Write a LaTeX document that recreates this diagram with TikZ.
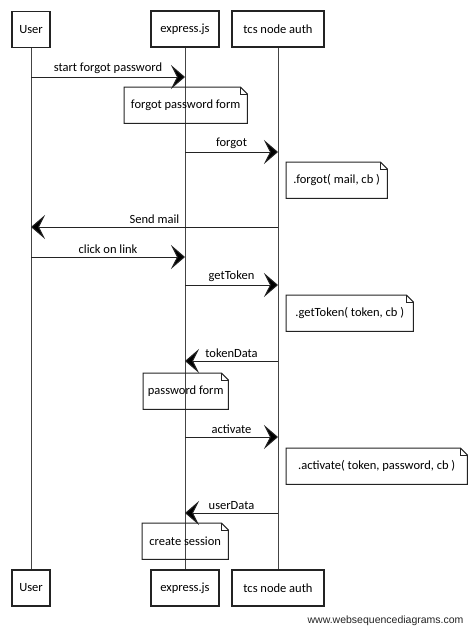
\documentclass[tikz,border=0pt]{standalone}
\usepackage{fontspec}
\setmainfont{Carlito}
\newfontfamily\wmfont{Liberation Sans}
\usepackage{tikz}
\usetikzlibrary{arrows.meta,positioning,calc}
\definecolor{ink}{RGB}{35,35,35}

\begin{document}
\begin{tikzpicture}[x=1pt,y=-1pt,
  actor/.style={draw=ink,line width=1.2pt,minimum height=36pt,inner sep=0pt,
                font=\fontsize{12.5}{14}\selectfont},
  life/.style={draw=ink!85,line width=0.8pt},
  msg/.style={-{Stealth[length=14pt,width=24pt,inset=6pt,fill=black]},draw=ink,line width=1pt},
  lbl/.style={font=\fontsize{12.5}{14}\selectfont,above=2pt,midway,inner sep=1pt},
  notebox/.style={anchor=north west,minimum height=36pt,inner xsep=3pt,
                  font=\fontsize{12.5}{14}\selectfont},
  fold/.style={draw=ink,line width=1pt}
]
\useasboundingbox (0,0) rectangle (474,632);

% participants, top and bottom
\node[actor,minimum width=38pt] (userT) at (31,29.5) {User};
\node[actor,minimum width=68pt] (expT)  at (185,29)  {express.js};
\node[actor,minimum width=92pt] (tcsT)  at (278,29)  {tcs node auth};
\node[actor,minimum width=38pt] (userB) at (31,588)  {User};
\node[actor,minimum width=68pt] (expB)  at (185,588) {express.js};
\node[actor,minimum width=92pt] (tcsB)  at (278,588) {tcs node auth};

% lifelines
\draw[life] (userT) -- (userB);
\draw[life] (expT)  -- (expB);
\draw[life] (tcsT)  -- (tcsB);

% notes
\node[notebox,minimum width=123pt] (nForm)   at (124,87)  {forgot password form};
\node[notebox,minimum width=101pt] (nForgot) at (286,162) {.forgot( mail, cb )};
\node[notebox,minimum width=127pt] (nToken)  at (286,295) {.getToken( token, cb )};
\node[notebox,minimum width=85pt]  (nPass)   at (143,373) {password form};
\node[notebox,minimum width=181pt] (nAct)    at (286,448) {.activate( token, password, cb )};
\node[notebox,minimum width=86pt]  (nSess)   at (142,523) {create session};
\foreach \n in {nForm,nForgot,nToken,nPass,nAct,nSess}{
  \draw[fold] (\n.south west) -- (\n.north west) -- ([xshift=-7pt]\n.north east)
    -- ([yshift=-7pt]\n.north east) -- (\n.south east) -- cycle;
  \draw[fold,line width=0.6pt] ([xshift=-7pt]\n.north east) |- ([yshift=-7pt]\n.north east);
}

% messages
\draw[msg] (userT |- 0,77)  -- (expT |- 0,77)   node[lbl]{start forgot password};
\draw[msg] (expT |- 0,152)  -- (tcsT |- 0,152)  node[lbl]{forgot};
\draw[msg] (tcsT |- 0,227)  -- (userT |- 0,227) node[lbl]{Send mail};
\draw[msg] (userT |- 0,257) -- (expT |- 0,257)  node[lbl]{click on link};
\draw[msg] (expT |- 0,285)  -- (tcsT |- 0,285)  node[lbl]{getToken};
\draw[msg] (tcsT |- 0,361)  -- (expT |- 0,361)  node[lbl]{tokenData};
\draw[msg] (expT |- 0,437)  -- (tcsT |- 0,437)  node[lbl]{activate};
\draw[msg] (tcsT |- 0,513)  -- (expT |- 0,513)  node[lbl]{userData};

% watermark
\node[anchor=east,font=\wmfont\fontsize{10.5}{12}\selectfont,text=ink] (wm) at (467,621)
  {www.websequencediagrams.com};
\end{tikzpicture}
\end{document}
